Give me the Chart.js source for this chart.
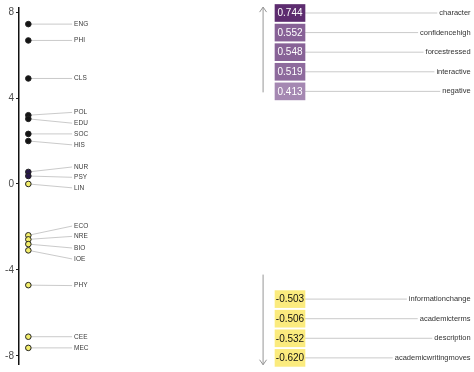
<!DOCTYPE html>
<html>
<head>
<meta charset="utf-8">
<script src="https://cdn.jsdelivr.net/npm/chart.js@4"></script>
<style>
  html, body { margin: 0; padding: 0; background: #fff; }
  #izq { position: absolute; left: 0; top: 0; }
  #der { position: absolute; left: 245px; top: 0; }
</style>
</head>
<body>
<canvas id="izq" width="245" height="372"></canvas>
<canvas id="der" width="229" height="372"></canvas>
<script>
// disciplinas (panel izquierdo)
const disciplinas = ['ENG', 'PHI', 'CLS', 'POL', 'EDU', 'SOC', 'HIS', 'NUR', 'PSY', 'LIN',
                     'ECO', 'NRE', 'BIO', 'IOE', 'PHY', 'CEE', 'MEC'];
const puntuaciones = [7.44, 6.68, 4.91, 3.20, 3.03, 2.33, 2.00, 0.56, 0.37, 0.00,
                      -2.39, -2.58, -2.80, -3.09, -4.71, -7.11, -7.63];
// posicion de la etiqueta (repelida) en unidades del eje
const etiquetasY = [7.44, 6.68, 4.91, 3.33, 2.83, 2.33, 1.82, 0.79, 0.31, -0.18,
                    -1.96, -2.44, -2.98, -3.49, -4.73, -7.11, -7.63];
const ticksY = [8, 4, 0, -4, -8];

// terminos (panel derecho)
const terminosPos = ['character', 'confidencehigh', 'forcestressed', 'interactive', 'negative'];
const cargasPos = [0.744, 0.552, 0.548, 0.519, 0.413];
const terminosNeg = ['informationchange', 'academicterms', 'description', 'academicwritingmoves'];
const cargasNeg = [-0.503, -0.506, -0.532, -0.620];

const FUENTE = '"Liberation Sans", Arial, sans-serif';

function colorPunto(v) {
    if (v > 1) return '#141414';
    if (v > 0.1) return '#27174a';
    return '#f3ee6c';
}

function colorCaja(v) {
    if (v < 0) return '#fbeb7e';
    // morado mas oscuro para cargas mayores
    const t = Math.max(0, Math.min(1, (v - 0.4) / 0.35));
    const c0 = [168, 140, 181], c1 = [92, 42, 110];
    const c = c0.map((a, i) => Math.round(a + (c1[i] - a) * t));
    return `rgb(${c[0]}, ${c[1]}, ${c[2]})`;
}

// ---------- panel izquierdo ----------
const X_PUNTO = 0.042;
const X_ETIQ = 0.248;

const etiquetasIzq = {
    id: 'etiquetasIzq',
    beforeDatasetsDraw(chart) {
        const ctx = chart.ctx;
        const sx = chart.scales.x, sy = chart.scales.y;
        ctx.save();
        ctx.strokeStyle = '#bdbdbd';
        ctx.lineWidth = 0.8;
        puntuaciones.forEach((v, i) => {
            ctx.beginPath();
            ctx.moveTo(sx.getPixelForValue(X_PUNTO), sy.getPixelForValue(v));
            ctx.lineTo(sx.getPixelForValue(X_ETIQ) - 2, sy.getPixelForValue(etiquetasY[i]));
            ctx.stroke();
        });
        ctx.restore();
    },
    afterDatasetsDraw(chart) {
        const ctx = chart.ctx;
        const sx = chart.scales.x, sy = chart.scales.y;
        ctx.save();
        ctx.fillStyle = '#3a3a3a';
        ctx.font = '6.5px ' + FUENTE;
        ctx.textBaseline = 'middle';
        disciplinas.forEach((d, i) => {
            ctx.fillText(d, sx.getPixelForValue(X_ETIQ), sy.getPixelForValue(etiquetasY[i]));
        });
        ctx.restore();
    }
};

new Chart(document.getElementById('izq').getContext('2d'), {
    type: 'scatter',
    data: {
        datasets: [{
            data: puntuaciones.map(v => ({ x: X_PUNTO, y: v })),
            backgroundColor: puntuaciones.map(colorPunto),
            borderColor: '#222',
            borderWidth: 1,
            pointRadius: 2.8,
            pointHoverRadius: 2.8
        }]
    },
    options: {
        responsive: false,
        animation: false,
        events: [],
        layout: { padding: { top: 5, bottom: 5, left: 0, right: 0 } },
        plugins: { legend: { display: false }, tooltip: { enabled: false } },
        scales: {
            x: { display: false, min: 0, max: 1 },
            y: {
                min: -8.38,
                max: 8.19,
                afterBuildTicks: s => { s.ticks = ticksY.map(v => ({ value: v })); },
                afterFit: s => { s.width = 19; },
                ticks: { color: '#4d4d4d', font: { size: 10, family: FUENTE }, padding: 2 },
                grid: { drawOnChartArea: false, drawTicks: true, tickLength: 3, color: '#222', lineWidth: 1 },
                border: { display: true, color: '#111', width: 1.5 }
            }
        }
    },
    plugins: [etiquetasIzq]
});

// ---------- panel derecho ----------
const CAJA_X0 = 0.131, CAJA_X1 = 0.262;
const ETIQ_X = 0.985;
const FLECHA_X = 0.079;
const INICIO_NEG = 15.6;

const posPos = terminosPos.map((t, i) => i + 1);
const posNeg = terminosNeg.map((t, i) => INICIO_NEG + i);
const terminos = terminosPos.concat(terminosNeg);
const cargas = cargasPos.concat(cargasNeg);
const posiciones = posPos.concat(posNeg);

const textosDer = {
    id: 'textosDer',
    beforeDatasetsDraw(chart) {
        const ctx = chart.ctx;
        const sx = chart.scales.x, sy = chart.scales.y;
        ctx.save();
        ctx.font = '7.5px ' + FUENTE;
        ctx.strokeStyle = '#bdbdbd';
        ctx.lineWidth = 0.8;
        terminos.forEach((t, i) => {
            const y = sy.getPixelForValue(posiciones[i]);
            const xe = sx.getPixelForValue(ETIQ_X) - ctx.measureText(t).width - 2;
            ctx.beginPath();
            ctx.moveTo(sx.getPixelForValue(CAJA_X1), y);
            ctx.lineTo(xe, y);
            ctx.stroke();
        });
        // flechas
        ctx.strokeStyle = '#8a8a8a';
        ctx.lineWidth = 0.9;
        const ax = sx.getPixelForValue(FLECHA_X);
        const flecha = (y0, y1) => {
            const d = y1 < y0 ? 1 : -1;
            ctx.beginPath();
            ctx.moveTo(ax, y0);
            ctx.lineTo(ax, y1);
            ctx.moveTo(ax - 3.5, y1 + d * 5);
            ctx.lineTo(ax, y1);
            ctx.lineTo(ax + 3.5, y1 + d * 5);
            ctx.stroke();
        };
        flecha(sy.getPixelForValue(posPos[posPos.length - 1] + 0.05), sy.getPixelForValue(posPos[0] - 0.3));
        flecha(sy.getPixelForValue(posNeg[0] - 1.25), sy.getPixelForValue(posNeg[posNeg.length - 1] + 0.35));
        ctx.restore();
    },
    afterDatasetsDraw(chart) {
        const ctx = chart.ctx;
        const sx = chart.scales.x, sy = chart.scales.y;
        ctx.save();
        ctx.textBaseline = 'middle';
        terminos.forEach((t, i) => {
            const y = sy.getPixelForValue(posiciones[i]);
            ctx.font = '10px ' + FUENTE;
            ctx.textAlign = 'center';
            ctx.fillStyle = cargas[i] < 0 ? '#111' : '#fff';
            ctx.fillText(cargas[i].toFixed(3), (sx.getPixelForValue(CAJA_X0) + sx.getPixelForValue(CAJA_X1)) / 2, y + 0.5);
            ctx.font = '7.5px ' + FUENTE;
            ctx.textAlign = 'right';
            ctx.fillStyle = '#333';
            ctx.fillText(t, sx.getPixelForValue(ETIQ_X), y);
        });
        ctx.restore();
    }
};

new Chart(document.getElementById('der').getContext('2d'), {
    type: 'bar',
    data: {
        datasets: [{
            data: posiciones.map(p => ({ y: p, x: [CAJA_X0, CAJA_X1] })),
            backgroundColor: cargas.map(colorCaja),
            borderWidth: 0,
            barThickness: 17
        }]
    },
    options: {
        indexAxis: 'y',
        responsive: false,
        animation: false,
        events: [],
        layout: { padding: 0 },
        plugins: { legend: { display: false }, tooltip: { enabled: false } },
        scales: {
            x: { display: false, min: 0, max: 1 },
            y: { type: 'linear', display: false, reverse: true, offset: false, min: 0.337, max: 19.32 }
        }
    },
    plugins: [textosDer]
});
</script>
</body>
</html>
